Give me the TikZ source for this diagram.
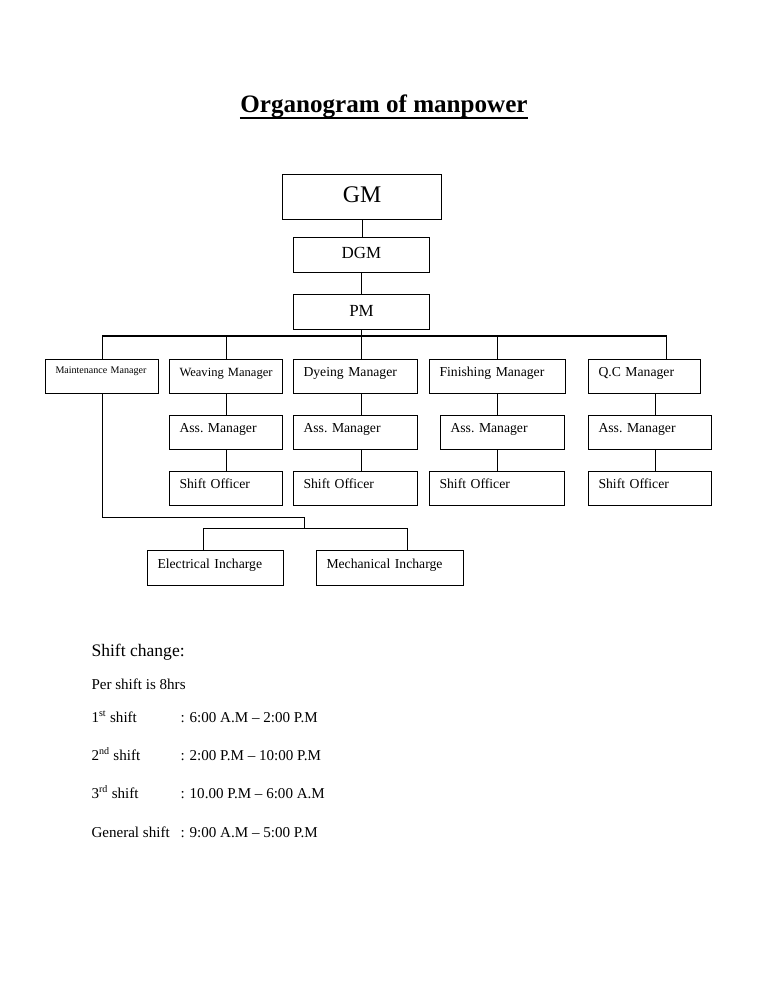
\documentclass[tikz,border=0pt]{standalone}
\usepackage{fontspec}
\setmainfont{Liberation Serif}
\usetikzlibrary{calc}
\newdimen\pxu
\pxu=0.796875pt
\tikzset{
	post/.style={draw, rectangle, anchor=north west, inner xsep=0pt, inner ysep=0pt, text height=17\pxu, text depth=17\pxu, align=left, font=\fontsize{10.9}{13}\selectfont, execute at begin node={\frenchspacing\hspace*{10\pxu}}},
	toppost/.style={draw, rectangle, anchor=north west, inner sep=0pt, align=center},
	shifttext/.style={anchor=base west, inner sep=0pt, font=\fontsize{12}{14}\selectfont},
}

\begin{document}
\begin{tikzpicture}[x=0.796875pt, y=-0.796875pt, line width=0.8pt]
			%%%%% START %%%%%
			\useasboundingbox (0, 0) rectangle (768, 994);
			
			\node[anchor=base, inner sep=0pt, font=\fontsize{20}{24}\selectfont\bfseries] (title) at (384, 113) {Organogram of manpower};
			\draw[line width=1.3pt] ([yshift=-4.8\pxu]title.base west) -- ([yshift=-4.8\pxu]title.base east);
			
			% top of the chart
			\node[toppost, text width=159\pxu, text height=28\pxu, text depth=17\pxu, font=\fontsize{19}{22}\selectfont] (gm) at (282, 174) {GM};
			\node[toppost, text width=136\pxu, text height=21\pxu, text depth=14\pxu, font=\fontsize{13.5}{16}\selectfont] (dgm) at (293, 237) {DGM};
			\node[toppost, text width=136\pxu, text height=21.5\pxu, text depth=13.5\pxu, font=\fontsize{13.5}{16}\selectfont] (pm) at (293, 294) {PM};
			
			% managers
			\node[post, text width=113\pxu, text height=14\pxu, text depth=20\pxu, font=\fontsize{8}{10}\selectfont] (maint) at (45, 359) {Maintenance Manager};
			\node[post, text width=113\pxu, font=\fontsize{10}{12}\selectfont] (weave) at (169, 359) {Weaving Manager};
			\node[post, text width=124\pxu] (dye) at (293, 359) {Dyeing Manager};
			\node[post, text width=136\pxu] (finish) at (429, 359) {Finishing Manager};
			\node[post, text width=112\pxu] (qc) at (588, 359) {Q.C Manager};
			
			\node[post, text width=113\pxu] (weaveass) at (169, 415) {Ass. Manager};
			\node[post, text width=124\pxu] (dyeass) at (293, 415) {Ass. Manager};
			\node[post, text width=124\pxu] (finishass) at (440, 415) {Ass. Manager};
			\node[post, text width=123\pxu] (qcass) at (588, 415) {Ass. Manager};
			
			\node[post, text width=113\pxu] (weaveshift) at (169, 471) {Shift Officer};
			\node[post, text width=124\pxu] (dyeshift) at (293, 471) {Shift Officer};
			\node[post, text width=135\pxu] (finishshift) at (429, 471) {Shift Officer};
			\node[post, text width=123\pxu] (qcshift) at (588, 471) {Shift Officer};
			
			\node[post, text width=136\pxu, text height=17.5\pxu, text depth=17.5\pxu] (elec) at (147, 550) {Electrical Incharge};
			\node[post, text width=147\pxu, text height=17.5\pxu, text depth=17.5\pxu] (mech) at (316, 550) {Mechanical Incharge};
			
			% lines
			\coordinate (busl) at (101, 336);
			\coordinate (busr) at (666, 336);
			\coordinate (qcline) at (655, 0);
			\coordinate (lowa) at (304, 517);
			\coordinate (lowl) at (203, 528);
			\coordinate (lowr) at (407, 528);
			
			\draw (gm.south) -- (gm.south |- dgm.north);
			\draw (dgm.south) -- (dgm.south |- pm.north);
			\draw (pm.south) -- (pm.south |- dye.north);
			\draw (maint.north) -- (maint.north |- busl) -- (busr) -- (busr |- qc.north);
			\draw (weave.north) -- (weave.north |- busl);
			\draw (finish.north) -- (finish.north |- busl);
			
			\draw (weave.south) -- (weave.south |- weaveass.north);
			\draw (weaveass.south) -- (weaveass.south |- weaveshift.north);
			\draw (pm.south |- dye.south) -- (pm.south |- dyeass.north);
			\draw (pm.south |- dyeass.south) -- (pm.south |- dyeshift.north);
			\draw (finish.south) -- (finish.south |- finishass.north);
			\draw (finish.south |- finishass.south) -- (finish.south |- finishshift.north);
			\draw (qcline |- qc.south) -- (qcline |- qcass.north);
			\draw (qcline |- qcass.south) -- (qcline |- qcshift.north);
			
			\draw (maint.south) -- (maint.south |- lowa) -- (lowa) -- (lowa |- lowl);
			\draw (lowl |- elec.north) -- (lowl) -- (lowr) -- (lowr |- mech.north);
			
			% shift change
			\node[shifttext, font=\fontsize{14}{17}\selectfont] (change) at (91, 656) {Shift change:};
			\node[shifttext] (per) at (91, 689) {Per shift is 8hrs};
			
			\node[shifttext] (first) at (91, 722) {1\textsuperscript{st} shift};
			\node[shifttext] (firsttime) at (180, 722) {: 6:00 A.M – 2:00 P.M};
			\node[shifttext] (second) at (91, 760) {2\textsuperscript{nd} shift};
			\node[shifttext] (secondtime) at (180, 760) {: 2:00 P.M – 10:00 P.M};
			\node[shifttext] (third) at (91, 798) {3\textsuperscript{rd} shift};
			\node[shifttext] (thirdtime) at (180, 798) {: 10.00 P.M – 6:00 A.M};
			\node[shifttext] (general) at (91, 837) {General shift};
			\node[shifttext] (generaltime) at (180, 837) {: 9:00 A.M – 5:00 P.M};
			
			%%%%% END %%%%%
		\end{tikzpicture}
\end{document}
